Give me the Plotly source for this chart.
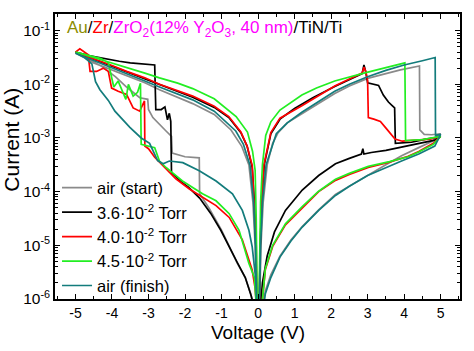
import plotly.graph_objects as go

# ---------------- data (voltage in V, current in A) ----------------
# air (start)
V_AIR_START = [0.04, 0.08, 0.14, 0.25, 0.4, 0.55, 0.8, 1.2, 1.6, 2.1, 2.5, 3.0, 3.5, 3.9, 4.42, 4.43, 4.55, 4.75, 5.0,
               4.8, 4.4, 3.93, 3.5, 3.0, 2.5, 2.12, 1.66, 1.21, 0.9, 0.6, 0.35, 0.2, 0.12,
               -0.12, -0.2, -0.35, -0.57, -0.8, -1.0, -1.34, -1.6, -1.61, -2.0, -2.35, -2.37, -2.52, -2.7, -2.88, -3.0,
               -3.02, -3.24, -3.6, -3.9, -4.25, -4.6, -5.0,
               -4.5, -4.0, -3.6, -3.1, -2.7, -2.2, -1.79, -1.2, -0.74, -0.45, -0.25, -0.14, -0.08, -0.04]
I_AIR_START = [5.0e-7, 1.0e-5, 6.31e-5, 3.16e-4, 7.94e-4, 1.26e-3, 1.91e-3, 2.82e-3, 4.17e-3, 6.76e-3, 9.33e-3, 1.29e-2,
               1.58e-2, 1.86e-2, 2.19e-2, 1.41e-3, 1.17e-3, 1.15e-3, 1.20e-3,
               8.91e-4, 6.61e-4, 4.68e-4, 3.16e-4, 2.0e-4, 1.26e-4, 8.91e-5, 4.57e-5, 2.24e-5, 1.26e-5, 6.31e-6, 2.82e-6,
               1.41e-6, 6.31e-7,
               6.31e-7, 1.26e-6, 2.51e-6, 4.68e-6, 1.0e-5, 1.91e-5, 4.90e-5, 9.12e-5, 4.27e-4, 4.47e-4, 5.25e-4, 1.07e-3,
               1.35e-3, 1.78e-3, 2.40e-3, 3.39e-3, 5.25e-3, 5.62e-3, 8.91e-3, 1.38e-2, 2.09e-2, 2.88e-2, 3.89e-2,
               2.51e-2, 1.86e-2, 1.45e-2, 1.07e-2, 7.94e-3, 5.75e-3, 4.37e-3, 2.75e-3, 1.41e-3, 7.08e-4, 3.16e-4, 6.31e-5,
               1.0e-5, 5.0e-7]

# 3.6e-2 Torr
V_TORR_36 = [0.03, 0.06, 0.1, 0.17, 0.35, 0.6, 1.0, 1.5, 2.1, 2.5, 2.85, 2.9, 2.95, 3.0, 3.15, 3.3, 3.43, 3.57, 3.68, 3.74,
             3.76, 4.2, 4.6, 5.0,
             4.84, 4.4, 3.93, 3.5, 3.1, 2.9, 2.87, 2.83, 2.5, 2.12, 1.66, 1.21, 0.75, 0.45, 0.25, 0.12, 0.05,
             -0.05, -0.18, -0.35, -0.56, -0.8, -1.02, -1.3, -1.6, -1.9, -2.1, -2.25, -2.37, -2.39, -2.43, -2.48, -2.55,
             -2.65, -2.8, -2.83, -3.0, -3.2, -3.5, -3.8, -4.2, -4.6, -5.0,
             -4.5, -4.0, -3.6, -3.1, -2.7, -2.2, -1.79, -1.2, -0.8, -0.47, -0.3, -0.16, -0.1, -0.06, -0.03]
I_TORR_36 = [5.0e-7, 1.0e-5, 6.31e-5, 3.16e-4, 1.20e-3, 2.24e-3, 3.55e-3, 5.62e-3, 9.12e-3, 1.20e-2, 1.58e-2, 2.29e-2,
             1.70e-2, 1.07e-2, 1.02e-2, 9.55e-3, 6.31e-3, 4.68e-3, 3.98e-3, 3.63e-3, 7.94e-4, 8.32e-4, 9.55e-4, 1.05e-3,
             9.12e-4, 7.94e-4, 6.76e-4, 5.89e-4, 5.37e-4, 5.01e-4, 6.31e-4, 5.01e-4, 4.17e-4, 3.31e-4, 2.0e-4, 1.07e-4,
             4.47e-5, 1.78e-5, 6.31e-6, 2.0e-6, 5.0e-7,
             5.0e-7, 1.10e-6, 2.51e-6, 4.68e-6, 1.0e-5, 1.91e-5, 3.98e-5, 7.59e-5, 1.20e-4, 1.51e-4, 1.91e-4, 2.24e-4,
             2.04e-3, 2.88e-3, 2.19e-3, 3.80e-3, 3.39e-3, 3.39e-3, 2.29e-2, 2.34e-2, 2.45e-2, 2.51e-2, 2.69e-2, 3.02e-2,
             3.39e-2, 3.98e-2,
             2.95e-2, 2.19e-2, 1.70e-2, 1.26e-2, 9.77e-3, 7.24e-3, 5.75e-3, 3.72e-3, 2.40e-3, 1.26e-3, 7.08e-4, 2.82e-4,
             6.31e-5, 1.0e-5, 5.0e-7]

# 4.0e-2 Torr
V_TORR_40 = [0.03, 0.06, 0.1, 0.16, 0.35, 0.6, 1.2, 1.6, 2.1, 2.5, 2.85, 2.9, 2.95, 3.0, 3.02, 3.17, 3.35, 3.52, 3.65,
             3.75, 3.95, 4.3, 4.7, 5.0,
             4.8, 4.4, 4.11, 3.6, 3.02, 2.5, 2.12, 1.66, 1.21, 0.75, 0.4, 0.2, 0.08,
             -0.02, -0.08, -0.16, -0.43, -0.79, -1.15, -1.52, -1.88, -2.25, -2.6, -2.83, -3.0, -3.1, -3.11, -3.24, -3.42,
             -3.6, -3.83, -4.01, -4.1, -4.24, -4.42, -4.6, -4.65, -4.88, -5.0,
             -4.5, -4.0, -3.6, -3.1, -2.7, -2.2, -1.79, -1.2, -0.8, -0.47, -0.3, -0.16, -0.1, -0.05, -0.03]
I_TORR_40 = [5.0e-7, 1.0e-5, 6.31e-5, 3.16e-4, 1.26e-3, 2.34e-3, 3.98e-3, 5.75e-3, 9.33e-3, 1.26e-2, 1.62e-2, 2.09e-2,
             1.74e-2, 1.17e-2, 2.40e-3, 2.24e-3, 2.04e-3, 1.48e-3, 1.17e-3, 9.55e-4, 8.71e-4, 9.12e-4, 9.55e-4, 1.07e-3,
             7.94e-4, 5.62e-4, 4.57e-4, 3.55e-4, 2.82e-4, 2.09e-4, 1.62e-4, 1.0e-4, 5.01e-5, 2.40e-5, 9.55e-6, 3.55e-6,
             5.0e-7,
             5.0e-7, 1.58e-6, 3.47e-6, 1.26e-5, 3.31e-5, 5.50e-5, 7.94e-5, 1.12e-4, 1.74e-4, 3.02e-4, 4.37e-4, 6.31e-4,
             7.08e-4, 4.90e-3, 3.16e-3, 3.63e-3, 6.46e-3, 7.41e-3, 8.51e-3, 1.74e-2, 2.0e-2, 1.74e-2, 1.74e-2, 3.55e-2,
             4.57e-2, 3.98e-2,
             3.02e-2, 2.24e-2, 1.74e-2, 1.32e-2, 1.0e-2, 7.59e-3, 6.03e-3, 3.89e-3, 2.51e-3, 1.29e-3, 7.08e-4, 3.09e-4,
             6.31e-5, 1.0e-5, 5.0e-7]

# 4.5e-2 Torr
V_TORR_45 = [0.02, 0.04, 0.07, 0.12, 0.21, 0.35, 0.6, 1.2, 1.6, 2.1, 2.5, 2.9, 3.5, 4.02, 4.04, 4.5, 5.0,
             4.8, 4.4, 4.11, 3.6, 3.02, 2.5, 2.12, 1.66, 1.21, 0.75, 0.4, 0.2, 0.08,
             -0.03, -0.1, -0.25, -0.52, -0.79, -1.15, -1.52, -2.07, -2.52, -2.7, -2.83, -3.0, -3.2, -3.22, -3.3, -3.42,
             -3.55, -3.62, -3.83, -3.95, -4.1, -4.3, -4.6, -5.0,
             -4.5, -4.0, -3.6, -3.1, -2.7, -2.2, -1.79, -1.2, -0.6, -0.29, -0.15, -0.08, -0.05, -0.03, -0.02]
I_TORR_45 = [5.0e-7, 1.0e-5, 6.31e-5, 3.16e-4, 1.12e-3, 2.0e-3, 3.31e-3, 6.31e-3, 8.51e-3, 1.15e-2, 1.38e-2, 1.62e-2,
             2.04e-2, 2.51e-2, 8.91e-4, 9.33e-4, 1.07e-3,
             7.59e-4, 5.50e-4, 4.47e-4, 3.63e-4, 2.95e-4, 2.19e-4, 1.70e-4, 1.02e-4, 5.25e-5, 2.51e-5, 1.0e-5, 3.72e-6,
             5.0e-7,
             5.0e-7, 2.51e-6, 4.57e-6, 1.91e-5, 3.89e-5, 6.76e-5, 9.12e-5, 1.58e-4, 2.82e-4, 3.72e-4, 6.61e-4, 7.08e-4,
             7.59e-4, 1.05e-2, 7.08e-3, 6.03e-3, 1.0e-2, 5.25e-3, 1.15e-2, 8.91e-3, 2.51e-2, 3.02e-2, 3.39e-2, 3.98e-2,
             3.16e-2, 2.51e-2, 2.04e-2, 1.62e-2, 1.32e-2, 1.05e-2, 8.32e-3, 5.37e-3, 2.51e-3, 1.29e-3, 5.62e-4, 2.51e-4,
             3.16e-5, 5.01e-6, 5.0e-7]

# air (finish)
V_AIR_FINISH = [0.03, 0.07, 0.12, 0.22, 0.5, 0.8, 1.2, 1.6, 2.1, 2.5, 3.0, 3.5, 4.0, 4.5, 4.85, 4.86, 5.0,
                4.84, 4.4, 3.93, 3.5, 3.0, 2.5, 2.12, 1.66, 1.21, 0.9, 0.6, 0.35, 0.2, 0.12,
                -0.03, -0.06, -0.16, -0.25, -0.43, -0.7, -1.15, -1.61, -2.06, -2.43, -2.6, -2.75, -2.97, -3.2, -3.51,
                -3.92, -4.1, -4.33, -4.45, -4.55, -4.75, -5.0,
                -4.5, -4.0, -3.6, -3.1, -2.7, -2.2, -1.79, -1.2, -0.61, -0.4, -0.22, -0.12, -0.07, -0.03]
I_AIR_FINISH = [5.0e-7, 1.0e-5, 6.31e-5, 3.16e-4, 1.20e-3, 1.91e-3, 3.02e-3, 4.47e-3, 7.41e-3, 1.0e-2, 1.38e-2, 1.82e-2,
                2.29e-2, 2.75e-2, 3.16e-2, 1.12e-3, 1.17e-3,
                7.08e-4, 5.01e-4, 3.72e-4, 2.82e-4, 2.0e-4, 1.26e-4, 8.51e-5, 4.47e-5, 2.19e-5, 1.20e-5, 6.03e-6, 2.51e-6,
                1.26e-6, 5.0e-7,
                5.0e-7, 2.24e-6, 9.33e-6, 1.91e-5, 4.47e-5, 9.12e-5, 1.58e-4, 2.45e-4, 3.47e-4, 3.72e-4, 3.31e-4, 3.80e-4,
                7.94e-4, 1.0e-3, 1.58e-3, 3.16e-3, 5.01e-3, 7.94e-3, 1.12e-2, 2.40e-2, 3.16e-2, 3.80e-2,
                2.75e-2, 2.0e-2, 1.55e-2, 1.15e-2, 8.91e-3, 6.61e-3, 5.13e-3, 3.16e-3, 1.35e-3, 7.59e-4, 3.09e-4, 6.31e-5,
                1.0e-5, 5.0e-7]

SERIES_NAMES = ["air (start)", "3.6·10<sup>-2</sup> Torr", "4.0·10<sup>-2</sup> Torr",
                "4.5·10<sup>-2</sup> Torr", "air (finish)"]
SERIES_COLORS = ["#8a8a8a", "#000000", "#ff0000", "#22ee22", "#137c7c"]

X_TICKS = [-5, -4, -3, -2, -1, 0, 1, 2, 3, 4, 5]
X_TICK_TEXT = ["-5", "-4", "-3", "-2", "-1", "0", "1", "2", "3", "4", "5"]
Y_TICKS = [1e-6, 1e-5, 1e-4, 1e-3, 1e-2, 1e-1]
Y_TICK_TEXT = ["10<sup>-6</sup>", "10<sup>-5</sup>", "10<sup>-4</sup>", "10<sup>-3</sup>",
               "10<sup>-2</sup>", "10<sup>-1</sup>"]

series_v = [V_AIR_START, V_TORR_36, V_TORR_40, V_TORR_45, V_AIR_FINISH]
series_i = [I_AIR_START, I_TORR_36, I_TORR_40, I_TORR_45, I_AIR_FINISH]
for v, i in zip(series_v, series_i):
    assert len(v) == len(i), (len(v), len(i))

FONT = "Liberation Sans, Arial, sans-serif"

fig = go.Figure()
for v, i, name, col in zip(series_v, series_i, SERIES_NAMES, SERIES_COLORS):
    fig.add_trace(go.Scatter(x=v, y=i, mode="lines", name=name,
                             line=dict(color=col, width=1.7)))

axis_common = dict(showline=True, linecolor="black", linewidth=1.5, mirror="ticks",
                   ticks="inside", ticklen=5, tickwidth=1.2, tickcolor="black",
                   showgrid=False, zeroline=False)

fig.update_xaxes(range=[-5.56, 5.53], tickmode="array", tickvals=X_TICKS, ticktext=X_TICK_TEXT,
                 tickfont=dict(family=FONT, size=14, color="black"),
                 minor=dict(ticks="inside", ticklen=3, dtick=0.5, tick0=0, tickcolor="black", showgrid=False),
                 **axis_common)
fig.update_yaxes(type="log", range=[-6, -0.69], tickmode="array", tickvals=Y_TICKS, ticktext=Y_TICK_TEXT,
                 tickfont=dict(family=FONT, size=15.5, color="black"),
                 minor=dict(ticks="inside", ticklen=3, dtick="D1", tickcolor="black", showgrid=False),
                 **axis_common)

title_html = ("<span style='color:#8c8c00'>Au</span>/<span style='color:#ff0000'>Zr</span>/"
              "<span style='color:#ff00ff'>ZrO<sub>2</sub>(12% Y<sub>2</sub>O<sub>3</sub>, 40 nm)</span>/TiN/Ti")

fig.update_layout(
    width=474, height=351,
    margin=dict(l=55, r=12, t=12, b=52),
    paper_bgcolor="white", plot_bgcolor="white",
    font=dict(family=FONT, color="black"),
    showlegend=True,
    legend=dict(x=0.005, y=0.451, xanchor="left", yanchor="top",
                bgcolor="rgba(0,0,0,0)", font=dict(family=FONT, size=16.5, color="black"),
                tracegroupgap=0),
    annotations=[
        dict(text=title_html, xref="paper", yref="paper", x=0.024, y=0.946, xanchor="left",
             yanchor="middle", showarrow=False, font=dict(family=FONT, size=17, color="black")),
        dict(text="Voltage (V)", xref="paper", yref="paper", x=0.5, y=-0.118, xanchor="center",
             yanchor="middle", showarrow=False, font=dict(family=FONT, size=19, color="black")),
        dict(text="Current (A)", xref="paper", yref="paper", x=-0.108, y=0.56, xanchor="center",
             yanchor="middle", textangle=-90, showarrow=False, font=dict(family=FONT, size=21, color="black")),
    ],
)

fig.write_html("out.html")
